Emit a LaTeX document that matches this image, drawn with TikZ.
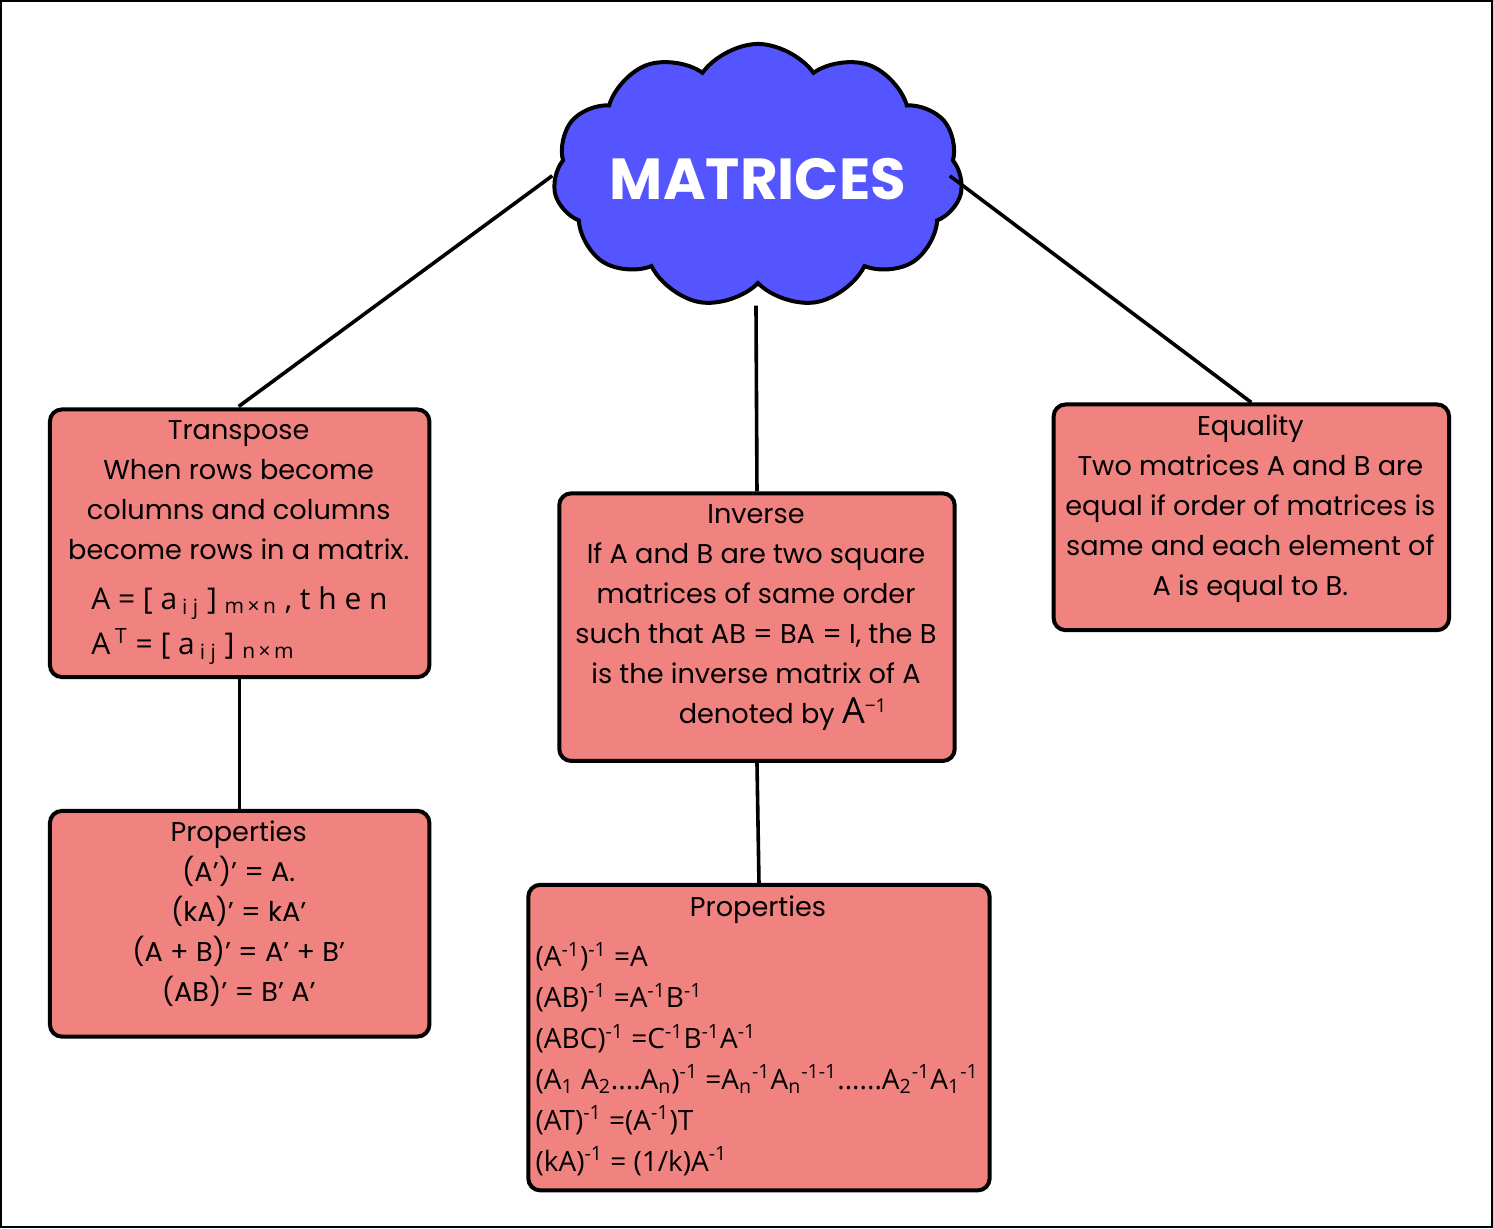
\documentclass[tikz,border=0pt]{standalone}
\usepackage{fontspec}
\setmainfont{Poppins}
\newfontfamily\osans{Open Sans}
\usetikzlibrary{shapes.symbols}
\newcommand\ap{{\char39}}
\definecolor{boxred}{RGB}{240,130,128}
\definecolor{cloudblue}{RGB}{85,85,255}
\tikzset{
 box/.style={draw=black,line width=2pt,fill=boxred,rounded corners=6pt,anchor=north west},
 txt/.style={align=center,font=\fontsize{13.6}{20}\selectfont,inner sep=0pt,anchor=north},
 conn/.style={line width=1.8pt}
}
\begin{document}
\begin{tikzpicture}[x=0.5pt,y=-0.5pt]
\draw[line width=1pt,fill=white] (0,0) rectangle (1493,1228);
\useasboundingbox (0,0) rectangle (1493,1228);
% cloud
\node[cloud,cloud puffs=11,cloud puff arc=110,aspect=1.6,draw,line width=2pt,fill=cloudblue,minimum width=205pt,minimum height=132pt,inner sep=0pt] (m) at (758,175) {};
\node[font=\fontsize{29}{30}\selectfont\bfseries,text=white] at (758,178) {MATRICES};
% boxes
\path (47,407) node[box,minimum width=190pt,minimum height=134pt] (t) {};
\path (47,809) node[box,minimum width=190pt,minimum height=113pt] (tp) {};
\path (557,491) node[box,minimum width=198pt,minimum height=134pt] (i) {};
\path (526,883) node[box,minimum width=231pt,minimum height=153pt] (ip) {};
\path (1052,402) node[box,minimum width=198pt,minimum height=113pt] (e) {};
% connectors
\coordinate (c1) at (552,175); \coordinate (c2) at (950,175); \coordinate (c3) at (756,305);
\draw[conn] (c1) -- (238,406);
\draw[conn] (c3) -- (i.north);
\draw[conn] (c2) -- (e.north);
\draw[conn] (t.south) -- (tp.north);
\draw[conn] (i.south) -- (ip.north);
% texts
\node[txt] at (238,420) {Transpose\\When rows become\\columns and columns\\become rows in a matrix.};
\node[txt,anchor=north west,align=left,font=\osans\fontsize{15}{22.5}\selectfont] at (90,586) {A = [ a\,\textsubscript{i j} ] \textsubscript{m\,×\,n} , t h e n\\A\,\textsuperscript{T} = [ a\,\textsubscript{i j} ] \textsubscript{n\,×\,m}};
\node[txt] at (238,821) {Properties\\(A\ap)\ap{} = A.\\(kA)\ap{} = kA\ap\\(A + B)\ap{} = A\ap{} + B\ap\\(AB)\ap{} = B\ap{} A\ap};
\node[txt] at (756,504) {Inverse\\If A and B are two square\\matrices of same order\\such that AB = BA = I, the B\\is the inverse matrix of A\\\hspace*{2em}denoted by {\osans\fontsize{18}{20}\selectfont A}\textsuperscript{\osans −1}};
\node[txt] at (1251,414) {Equality\\Two matrices A and B are\\equal if order of matrices is\\same and each element of\\A is equal to B.};
\node[txt] at (758,896) {Properties};
\node[txt,anchor=north west,align=left,font=\osans\fontsize{14}{20.5}\selectfont] at (535,942) {(A\textsuperscript{-1})\textsuperscript{-1} =A\\(AB)\textsuperscript{-1} =A\textsuperscript{-1}B\textsuperscript{-1}\\(ABC)\textsuperscript{-1} =C\textsuperscript{-1}B\textsuperscript{-1}A\textsuperscript{-1}\\(A\textsubscript{1} A\textsubscript{2}....A\textsubscript{n})\textsuperscript{-1} =A\textsubscript{n}\textsuperscript{-1}A\textsubscript{n}\textsuperscript{-1-1}......A\textsubscript{2}\textsuperscript{-1}A\textsubscript{1}\textsuperscript{-1}\\(AT)\textsuperscript{-1} =(A\textsuperscript{-1})T\\(kA)\textsuperscript{-1} = (1/k)A\textsuperscript{-1}};
\end{tikzpicture}
\end{document}
